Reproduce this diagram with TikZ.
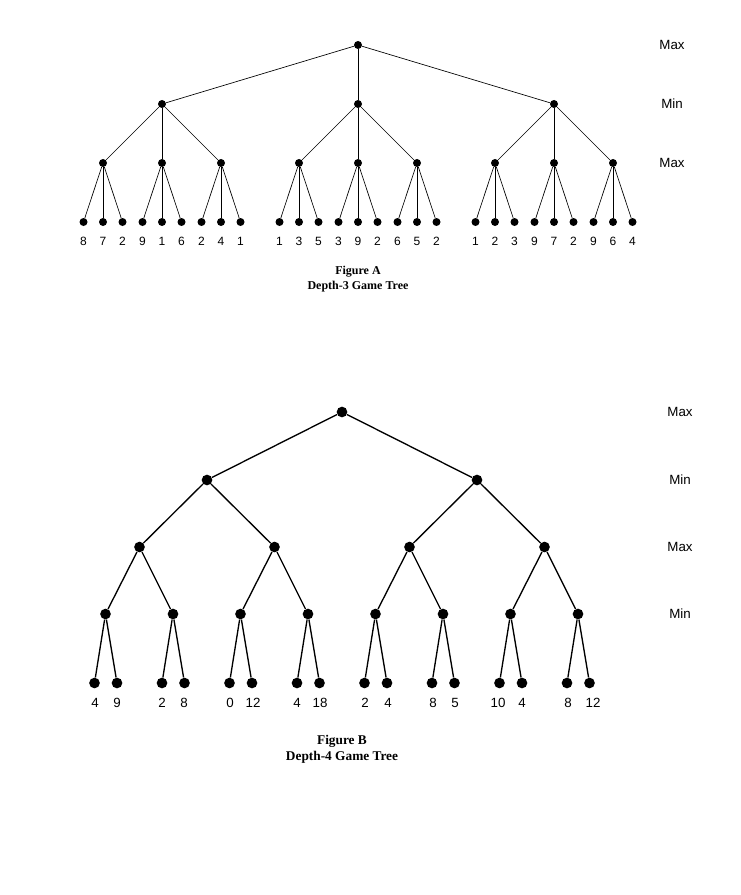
\documentclass[tikz,border=0pt]{standalone}
\usepackage{fontspec}
\setmainfont{Liberation Serif}
\newfontfamily\arial{Liberation Sans}
\begin{document}
\begin{tikzpicture}[x=0.75pt,y=-0.75pt,
 dotA/.style={circle,fill=black,inner sep=0pt,minimum size=6pt},
 dotB/.style={circle,fill=black,inner sep=0pt,minimum size=8pt},
 edgeA/.style={line width=0.5pt},
 edgeB/.style={line width=1pt},
 val/.style={font=\arial\fontsize{9}{10}\selectfont},
 lvl/.style={font=\arial\fontsize{10}{12}\selectfont},
 figcap/.style={font=\bfseries\fontsize{9}{11}\selectfont,align=center}]
\useasboundingbox (0,0) rectangle (741,895);
% Figure A
\node[dotA] (a) at (358,45) {};
\foreach \i/\x in {1/162,2/358,3/554}{
  \node[dotA] (a\i) at (\x,104) {};
  \draw[edgeA] (a) -- (a\i);
  \foreach \j/\dx in {1/-59,2/0,3/59}{
    \node[dotA] (a\i\j) at (\x+\dx,163) {};
    \draw[edgeA] (a\i) -- (a\i\j);
    \foreach \k/\ex in {1/-19.5,2/0,3/19.5}{
      \node[dotA] (a\i\j\k) at (\x+\dx+\ex,222) {};
      \draw[edgeA] (a\i\j) -- (a\i\j\k);
    }
  }
}
\foreach \v [count=\n from 0] in {8,7,2,9,1,6,2,4,1,1,3,5,3,9,2,6,5,2,1,2,3,9,7,2,9,6,4}{
  \pgfmathtruncatemacro\g{int(\n/9)}
  \pgfmathtruncatemacro\h{int(mod(\n,9)/3)}
  \pgfmathtruncatemacro\m{mod(\n,3)}
  \node[val] (la\n) at (162+196*\g+59*\h-59+19.5*\m-19.5,241) {\v};
}
\node[lvl] (lA1) at (672,45) {Max};
\node[lvl] (lA2) at (672,104) {Min};
\node[lvl] (lA3) at (672,163) {Max};
\node[figcap] (capA) at (358,279) {Figure A\\Depth-3 Game Tree};
% Figure B
\node[dotB] (b) at (342,412) {};
\foreach \i/\x in {1/207,2/477}{
  \node[dotB] (b\i) at (\x,480) {};
  \draw[edgeB] (b) -- (b\i);
  \foreach \j/\dx in {1/-67.5,2/67.5}{
    \node[dotB] (b\i\j) at (\x+\dx,547) {};
    \draw[edgeB] (b\i) -- (b\i\j);
    \foreach \k/\ex in {1/-34,2/33.5}{
      \node[dotB] (b\i\j\k) at (\x+\dx+\ex,614) {};
      \draw[edgeB] (b\i\j) -- (b\i\j\k);
      \foreach \l/\fx in {1/-11,2/11.5}{
        \node[dotB] (b\i\j\k\l) at (\x+\dx+\ex+\fx,683) {};
        \draw[edgeB] (b\i\j\k) -- (b\i\j\k\l);
      }
    }
  }
}
\foreach \v/\x in {4/95,9/117,2/162,8/184,0/230,12/253,4/297,18/320,2/365,4/388,8/433,5/455,10/498,4/522,8/568,12/593}{
  \node[lvl] at (\x,703) {\v};
}
\node[lvl] (lB1) at (680,412) {Max};
\node[lvl] (lB2) at (680,480) {Min};
\node[lvl] (lB3) at (680,547) {Max};
\node[lvl] (lB4) at (680,614) {Min};
\node[figcap,font=\bfseries\fontsize{10}{12}\selectfont] (capB) at (342,749) {Figure B\\Depth-4 Game Tree};
\end{tikzpicture}
\end{document}
